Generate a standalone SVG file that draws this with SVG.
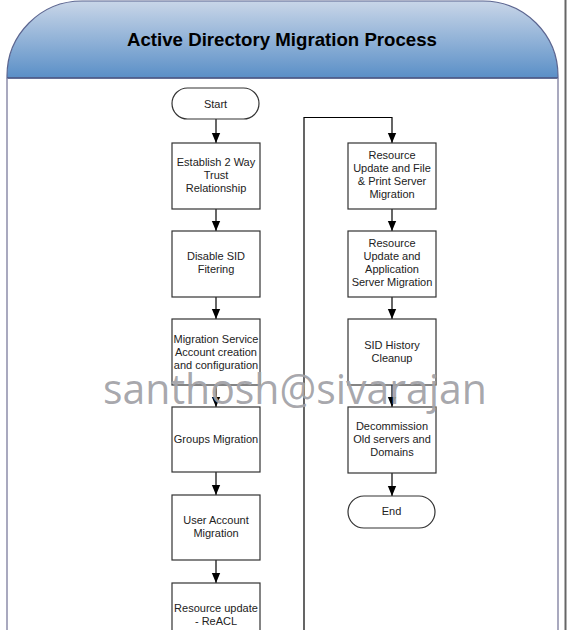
<svg xmlns="http://www.w3.org/2000/svg" width="569" height="630" viewBox="0 0 569 630">
<defs>
<linearGradient id="hdr" x1="0" y1="0" x2="0" y2="1">
<stop offset="0" stop-color="#c9d6e8"/>
<stop offset="1" stop-color="#5a8fc7"/>
</linearGradient>
<marker id="ah" markerWidth="10" markerHeight="12" refX="5" refY="12" orient="auto" markerUnits="userSpaceOnUse" viewBox="0 0 10 12">
<path d="M0,0 L10,0 L5,12 Z" fill="#000" transform="rotate(-90 5 6) translate(-1 1)"/>
</marker>
<marker id="arr" markerWidth="10" markerHeight="12" refX="12" refY="5" orient="auto" markerUnits="userSpaceOnUse" viewBox="0 0 12 10">
<path d="M0,0 L12,5 L0,10 Z" fill="#000"/>
</marker>
</defs>
<style>
.box{fill:#fff;stroke:#333;stroke-width:1.2}
.t{font-family:"Liberation Sans",Arial,sans-serif;font-size:11px;fill:#222;text-anchor:middle}
.c{fill:none;stroke:#000;stroke-width:1.2;marker-end:url(#arr)}
</style>
<rect x="0" y="0" width="569" height="630" fill="#fff"/>
<line x1="565.5" y1="0" x2="565.5" y2="630" stroke="#666" stroke-width="2"/>
<g id="frame">
<path d="M7,78 V76 A75,75 0 0 1 82,1 H483 A75,75 0 0 1 558,76 V78 Z" fill="url(#hdr)" stroke="#5b6590" stroke-width="1.2"/>
<line x1="7" y1="78" x2="558" y2="78" stroke="#4d5a86" stroke-width="1.5"/>
<line x1="7" y1="78" x2="7" y2="630" stroke="#8c8caa" stroke-width="1.5"/>
<line x1="558" y1="78" x2="558" y2="630" stroke="#8c8caa" stroke-width="1.5"/>
<text x="282" y="46" font-family="'Liberation Sans',Arial,sans-serif" font-size="19" font-weight="bold" text-anchor="middle" fill="#000" textLength="310" lengthAdjust="spacingAndGlyphs">Active Directory Migration Process</text>
</g>
<g id="connectors">
<line class="c" x1="216" y1="119" x2="216" y2="143"/>
<line class="c" x1="216" y1="209" x2="216" y2="231"/>
<line class="c" x1="216" y1="297" x2="216" y2="319"/>
<line class="c" x1="216" y1="385" x2="216" y2="407"/>
<line class="c" x1="216" y1="472" x2="216" y2="495"/>
<line class="c" x1="216" y1="560" x2="216" y2="583"/>
<path class="c" d="M304,630 V117.5 H392 V143"/>
<line class="c" x1="392" y1="209" x2="392" y2="231"/>
<line class="c" x1="392" y1="297" x2="392" y2="319"/>
<line class="c" x1="392" y1="385" x2="392" y2="407"/>
<line class="c" x1="392" y1="473" x2="392" y2="496"/>
</g>
<g id="start">
<rect class="box" x="172" y="88" width="87" height="31" rx="15.5"/>
<text class="t" x="215.5" y="108">Start</text>
</g>
<g id="trust">
<rect class="box" x="172" y="143" width="88" height="66"/>
<text class="t" x="216" y="166">Establish 2 Way</text>
<text class="t" x="216" y="179">Trust</text>
<text class="t" x="216" y="192">Relationship</text>
</g>
<g id="sid">
<rect class="box" x="172" y="231" width="88" height="66"/>
<text class="t" x="216" y="260">Disable SID</text>
<text class="t" x="216" y="273">Fitering</text>
</g>
<g id="msa">
<rect class="box" x="172" y="319" width="88" height="66"/>
<text class="t" x="216" y="343">Migration Service</text>
<text class="t" x="216" y="356">Account creation</text>
<text class="t" x="216" y="369">and configuration</text>
</g>
<g id="groups">
<rect class="box" x="172" y="407" width="88" height="65"/>
<text class="t" x="216" y="443">Groups Migration</text>
</g>
<g id="users">
<rect class="box" x="172" y="495" width="88" height="65"/>
<text class="t" x="216" y="524">User Account</text>
<text class="t" x="216" y="537">Migration</text>
</g>
<g id="reacl">
<rect class="box" x="172" y="583" width="88" height="66"/>
<text class="t" x="216" y="612">Resource update</text>
<text class="t" x="216" y="625">- ReACL</text>
</g>
<g id="fileprint">
<rect class="box" x="348" y="143" width="88" height="66"/>
<text class="t" x="392" y="159">Resource</text>
<text class="t" x="392" y="172">Update and File</text>
<text class="t" x="392" y="185">&amp; Print Server</text>
<text class="t" x="392" y="198">Migration</text>
</g>
<g id="appserver">
<rect class="box" x="348" y="231" width="88" height="66"/>
<text class="t" x="392" y="247">Resource</text>
<text class="t" x="392" y="260">Update and</text>
<text class="t" x="392" y="273">Application</text>
<text class="t" x="392" y="286">Server Migration</text>
</g>
<g id="sidhistory">
<rect class="box" x="348" y="319" width="88" height="66"/>
<text class="t" x="392" y="349">SID History</text>
<text class="t" x="392" y="362">Cleanup</text>
</g>
<g id="decom">
<rect class="box" x="348" y="407" width="88" height="66"/>
<text class="t" x="392" y="430">Decommission</text>
<text class="t" x="392" y="443">Old servers and</text>
<text class="t" x="392" y="456">Domains</text>
</g>
<g id="end">
<rect class="box" x="348" y="496" width="87" height="32" rx="16"/>
<text class="t" x="391.5" y="515">End</text>
</g>
<text x="103" y="404" font-family="'Open Sans','Noto Sans',sans-serif" font-size="42" fill="#a3a3a8" fill-opacity="0.95" textLength="384" lengthAdjust="spacingAndGlyphs">santhosh@sivarajan</text>
</svg>
